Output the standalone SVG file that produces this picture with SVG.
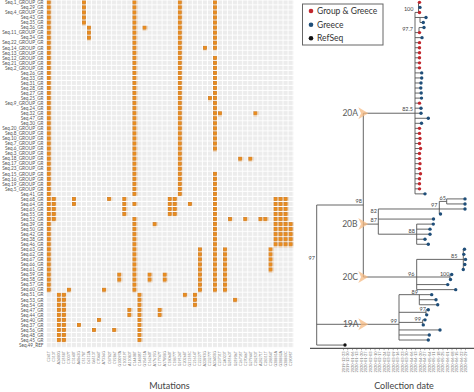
<svg xmlns="http://www.w3.org/2000/svg" width="474" height="392" viewBox="0 0 474 392">
<defs>
<pattern id="pg" x="46.6" y="0.3" width="5.04" height="5.04" patternUnits="userSpaceOnUse"><rect width="4.1" height="4.1" fill="#ececec"/></pattern>
<pattern id="po" x="46.6" y="0.3" width="5.04" height="5.04" patternUnits="userSpaceOnUse"><rect x="0.25" y="0.25" width="3.6" height="3.6" fill="#ea8c1d" stroke="#c56e12" stroke-width="0.5"/></pattern>
</defs>
<style>
text{font-family:Lato,"Open Sans","Liberation Sans",sans-serif}
.rl{font-size:4.7px;fill:#555;text-anchor:end}
.cl{font-size:3.6px;fill:#777;text-anchor:end}
.dl{font-size:3.9px;fill:#777;text-anchor:end}
.bs{font-size:5.5px;fill:#444;text-anchor:end}
.cn{font-size:8.5px;fill:#5a5a5a;text-anchor:end}
.ax{font-size:9px;fill:#444;text-anchor:middle}
.lg{font-size:8.5px;fill:#333}
.e{fill:none;stroke:#555;stroke-width:0.9}
.m{fill:url(#po)}
.tr{fill:#c1272d}.tb{fill:#1f4e79}.tk{fill:#111}
.tri{fill:#f6b982;opacity:0.75}
</style>

<g id="row-labels">
<text class="rl" x="43.5" y="4.15">Seq.1_GROUP_GR</text>
<text class="rl" x="43.5" y="9.19">Seq.29_GR</text>
<text class="rl" x="43.5" y="14.23">Seq.4_GROUP_GR</text>
<text class="rl" x="43.5" y="19.27">Seq.43_GR</text>
<text class="rl" x="43.5" y="24.31">Seq.35_GR</text>
<text class="rl" x="43.5" y="29.35">Seq.36_GR</text>
<text class="rl" x="43.5" y="34.39">Seq.11_GROUP_GR</text>
<text class="rl" x="43.5" y="39.43">Seq.34_GR</text>
<text class="rl" x="43.5" y="44.47">Seq.22_GROUP_GR</text>
<text class="rl" x="43.5" y="49.51">Seq.14_GROUP_GR</text>
<text class="rl" x="43.5" y="54.55">Seq.13_GROUP_GR</text>
<text class="rl" x="43.5" y="59.59">Seq.12_GROUP_GR</text>
<text class="rl" x="43.5" y="64.63">Seq.21_GROUP_GR</text>
<text class="rl" x="43.5" y="69.67">Seq.2_GROUP_GR</text>
<text class="rl" x="43.5" y="74.71">Seq.26_GR</text>
<text class="rl" x="43.5" y="79.75">Seq.33_GR</text>
<text class="rl" x="43.5" y="84.79">Seq.31_GR</text>
<text class="rl" x="43.5" y="89.83">Seq.28_GR</text>
<text class="rl" x="43.5" y="94.87">Seq.27_GR</text>
<text class="rl" x="43.5" y="99.91">Seq.25_GR</text>
<text class="rl" x="43.5" y="104.95">Seq.9_GROUP_GR</text>
<text class="rl" x="43.5" y="109.99">Seq.24_GR</text>
<text class="rl" x="43.5" y="115.03">Seq.32_GR</text>
<text class="rl" x="43.5" y="120.07">Seq.47_GR</text>
<text class="rl" x="43.5" y="125.11">Seq.30_GR</text>
<text class="rl" x="43.5" y="130.15">Seq.20_GROUP_GR</text>
<text class="rl" x="43.5" y="135.19">Seq.8_GROUP_GR</text>
<text class="rl" x="43.5" y="140.23">Seq.10_GROUP_GR</text>
<text class="rl" x="43.5" y="145.27">Seq.7_GROUP_GR</text>
<text class="rl" x="43.5" y="150.31">Seq.6_GROUP_GR</text>
<text class="rl" x="43.5" y="155.35">Seq.3_GROUP_GR</text>
<text class="rl" x="43.5" y="160.39">Seq.18_GROUP_GR</text>
<text class="rl" x="43.5" y="165.43">Seq.17_GROUP_GR</text>
<text class="rl" x="43.5" y="170.47">Seq.23_GROUP_GR</text>
<text class="rl" x="43.5" y="175.51">Seq.15_GROUP_GR</text>
<text class="rl" x="43.5" y="180.55">Seq.16_GROUP_GR</text>
<text class="rl" x="43.5" y="185.59">Seq.19_GROUP_GR</text>
<text class="rl" x="43.5" y="190.63">Seq.5_GROUP_GR</text>
<text class="rl" x="43.5" y="195.67">Seq.41_GR</text>
<text class="rl" x="43.5" y="200.71">Seq.68_GR</text>
<text class="rl" x="43.5" y="205.75">Seq.64_GR</text>
<text class="rl" x="43.5" y="210.79">Seq.65_GR</text>
<text class="rl" x="43.5" y="215.83">Seq.55_GR</text>
<text class="rl" x="43.5" y="220.87">Seq.52_GR</text>
<text class="rl" x="43.5" y="225.91">Seq.39_GR</text>
<text class="rl" x="43.5" y="230.95">Seq.50_GR</text>
<text class="rl" x="43.5" y="235.99">Seq.42_GR</text>
<text class="rl" x="43.5" y="241.03">Seq.38_GR</text>
<text class="rl" x="43.5" y="246.07">Seq.46_GR</text>
<text class="rl" x="43.5" y="251.11">Seq.63_GR</text>
<text class="rl" x="43.5" y="256.15">Seq.62_GR</text>
<text class="rl" x="43.5" y="261.19">Seq.67_GR</text>
<text class="rl" x="43.5" y="266.23">Seq.66_GR</text>
<text class="rl" x="43.5" y="271.27">Seq.61_GR</text>
<text class="rl" x="43.5" y="276.31">Seq.59_GR</text>
<text class="rl" x="43.5" y="281.35">Seq.58_GR</text>
<text class="rl" x="43.5" y="286.39">Seq.57_GR</text>
<text class="rl" x="43.5" y="291.43">Seq.60_GR</text>
<text class="rl" x="43.5" y="296.47">Seq.51_GR</text>
<text class="rl" x="43.5" y="301.51">Seq.53_GR</text>
<text class="rl" x="43.5" y="306.55">Seq.54_GR</text>
<text class="rl" x="43.5" y="311.59">Seq.47_GR</text>
<text class="rl" x="43.5" y="316.63">Seq.44_GR</text>
<text class="rl" x="43.5" y="321.67">Seq.40_GR</text>
<text class="rl" x="43.5" y="326.71">Seq.37_GR</text>
<text class="rl" x="43.5" y="331.75">Seq.56_GR</text>
<text class="rl" x="43.5" y="336.79">Seq.48_GR</text>
<text class="rl" x="43.5" y="341.83">Seq.45_GR</text>
<text class="rl" x="43.5" y="346.87">Seq.49_REF</text>
</g>

<g id="grid">
<rect x="46.6" y="0.3" width="246.96" height="347.76" fill="url(#pg)"/>
</g>

<g id="mutations">
<rect class="m" x="46.6" y="0.3" width="5.04" height="292.32"/>
<rect class="m" x="51.64" y="196.86" width="5.04" height="25.2"/>
<rect class="m" x="56.68" y="292.62" width="10.08" height="50.4"/>
<rect class="m" x="66.76" y="287.58" width="5.04" height="5.04"/>
<rect class="m" x="71.8" y="196.86" width="5.04" height="10.08"/>
<rect class="m" x="76.84" y="322.86" width="5.04" height="5.04"/>
<rect class="m" x="81.88" y="0.3" width="5.04" height="25.2"/>
<rect class="m" x="86.92" y="25.5" width="5.04" height="15.12"/>
<rect class="m" x="91.96" y="327.9" width="5.04" height="5.04"/>
<rect class="m" x="97" y="317.82" width="5.04" height="5.04"/>
<rect class="m" x="102.04" y="287.58" width="5.04" height="5.04"/>
<rect class="m" x="107.08" y="196.86" width="5.04" height="5.04"/>
<rect class="m" x="112.12" y="327.9" width="5.04" height="5.04"/>
<rect class="m" x="117.16" y="272.46" width="5.04" height="10.08"/>
<rect class="m" x="122.2" y="196.86" width="5.04" height="20.16"/>
<rect class="m" x="127.24" y="307.74" width="5.04" height="10.08"/>
<rect class="m" x="132.28" y="0.3" width="5.04" height="196.56"/>
<rect class="m" x="132.28" y="201.9" width="5.04" height="5.04"/>
<rect class="m" x="132.28" y="217.02" width="5.04" height="75.6"/>
<rect class="m" x="137.32" y="292.62" width="5.04" height="50.4"/>
<rect class="m" x="142.36" y="25.5" width="5.04" height="5.04"/>
<rect class="m" x="147.4" y="272.46" width="5.04" height="10.08"/>
<rect class="m" x="152.44" y="222.06" width="5.04" height="5.04"/>
<rect class="m" x="157.48" y="307.74" width="5.04" height="10.08"/>
<rect class="m" x="162.52" y="272.46" width="5.04" height="10.08"/>
<rect class="m" x="167.56" y="196.86" width="10.08" height="20.16"/>
<rect class="m" x="177.64" y="0.3" width="5.04" height="196.56"/>
<rect class="m" x="182.68" y="292.62" width="5.04" height="5.04"/>
<rect class="m" x="187.72" y="201.9" width="5.04" height="5.04"/>
<rect class="m" x="192.76" y="292.62" width="5.04" height="15.12"/>
<rect class="m" x="197.8" y="247.26" width="5.04" height="45.36"/>
<rect class="m" x="202.84" y="45.66" width="5.04" height="5.04"/>
<rect class="m" x="207.88" y="96.06" width="5.04" height="5.04"/>
<rect class="m" x="212.92" y="0.3" width="5.04" height="50.4"/>
<rect class="m" x="212.92" y="55.74" width="5.04" height="95.76"/>
<rect class="m" x="212.92" y="171.66" width="5.04" height="120.96"/>
<rect class="m" x="217.96" y="111.18" width="5.04" height="5.04"/>
<rect class="m" x="223" y="247.26" width="5.04" height="45.36"/>
<rect class="m" x="228.04" y="217.02" width="5.04" height="5.04"/>
<rect class="m" x="233.08" y="297.66" width="5.04" height="5.04"/>
<rect class="m" x="238.12" y="156.54" width="5.04" height="5.04"/>
<rect class="m" x="243.16" y="217.02" width="5.04" height="5.04"/>
<rect class="m" x="248.2" y="156.54" width="5.04" height="5.04"/>
<rect class="m" x="253.24" y="111.18" width="5.04" height="5.04"/>
<rect class="m" x="258.28" y="217.02" width="10.08" height="5.04"/>
<rect class="m" x="268.36" y="247.26" width="5.04" height="25.2"/>
<rect class="m" x="273.4" y="196.86" width="15.12" height="50.4"/>
<rect class="m" x="288.52" y="222.06" width="5.04" height="25.2"/>
</g>

<g id="column-labels">
<text class="cl" x="50.05" y="351" transform="rotate(-90 50.05 351)">C241T</text>
<text class="cl" x="55.09" y="351" transform="rotate(-90 55.09 351)">C313T</text>
<text class="cl" x="60.13" y="351" transform="rotate(-90 60.13 351)">A2480G</text>
<text class="cl" x="65.17" y="351" transform="rotate(-90 65.17 351)">C2558T</text>
<text class="cl" x="70.21" y="351" transform="rotate(-90 70.21 351)">C3037T</text>
<text class="cl" x="75.25" y="351" transform="rotate(-90 75.25 351)">C3140T</text>
<text class="cl" x="80.29" y="351" transform="rotate(-90 80.29 351)">A4862G</text>
<text class="cl" x="85.33" y="351" transform="rotate(-90 85.33 351)">C5178T</text>
<text class="cl" x="90.37" y="351" transform="rotate(-90 90.37 351)">C6312A</text>
<text class="cl" x="95.41" y="351" transform="rotate(-90 95.41 351)">G6513T</text>
<text class="cl" x="100.45" y="351" transform="rotate(-90 100.45 351)">C7044T</text>
<text class="cl" x="105.49" y="351" transform="rotate(-90 105.49 351)">A7336G</text>
<text class="cl" x="110.53" y="351" transform="rotate(-90 110.53 351)">C8782T</text>
<text class="cl" x="115.57" y="351" transform="rotate(-90 115.57 351)">C9286T</text>
<text class="cl" x="120.61" y="351" transform="rotate(-90 120.61 351)">G10097A</text>
<text class="cl" x="125.65" y="351" transform="rotate(-90 125.65 351)">C10319T</text>
<text class="cl" x="130.69" y="351" transform="rotate(-90 130.69 351)">A11083T</text>
<text class="cl" x="135.73" y="351" transform="rotate(-90 135.73 351)">C14408T</text>
<text class="cl" x="140.77" y="351" transform="rotate(-90 140.77 351)">C14805T</text>
<text class="cl" x="145.81" y="351" transform="rotate(-90 145.81 351)">G15451A</text>
<text class="cl" x="150.85" y="351" transform="rotate(-90 150.85 351)">C16260T</text>
<text class="cl" x="155.89" y="351" transform="rotate(-90 155.89 351)">A17615G</text>
<text class="cl" x="160.93" y="351" transform="rotate(-90 160.93 351)">C17747T</text>
<text class="cl" x="165.97" y="351" transform="rotate(-90 165.97 351)">A17858G</text>
<text class="cl" x="171.01" y="351" transform="rotate(-90 171.01 351)">C18060T</text>
<text class="cl" x="176.05" y="351" transform="rotate(-90 176.05 351)">C18877T</text>
<text class="cl" x="181.09" y="351" transform="rotate(-90 181.09 351)">G19524T</text>
<text class="cl" x="186.13" y="351" transform="rotate(-90 186.13 351)">C20268T</text>
<text class="cl" x="191.17" y="351" transform="rotate(-90 191.17 351)">G21255C</text>
<text class="cl" x="196.21" y="351" transform="rotate(-90 196.21 351)">C21614T</text>
<text class="cl" x="201.25" y="351" transform="rotate(-90 201.25 351)">C22227T</text>
<text class="cl" x="206.29" y="351" transform="rotate(-90 206.29 351)">A22893G</text>
<text class="cl" x="211.33" y="351" transform="rotate(-90 211.33 351)">C23277T</text>
<text class="cl" x="216.37" y="351" transform="rotate(-90 216.37 351)">A23403G</text>
<text class="cl" x="221.41" y="351" transform="rotate(-90 221.41 351)">C23731T</text>
<text class="cl" x="226.45" y="351" transform="rotate(-90 226.45 351)">C24023T</text>
<text class="cl" x="231.49" y="351" transform="rotate(-90 231.49 351)">G25563T</text>
<text class="cl" x="236.53" y="351" transform="rotate(-90 236.53 351)">G25906T</text>
<text class="cl" x="241.57" y="351" transform="rotate(-90 241.57 351)">C26735T</text>
<text class="cl" x="246.61" y="351" transform="rotate(-90 246.61 351)">C27046T</text>
<text class="cl" x="251.65" y="351" transform="rotate(-90 251.65 351)">G27944T</text>
<text class="cl" x="256.69" y="351" transform="rotate(-90 256.69 351)">C28253T</text>
<text class="cl" x="261.73" y="351" transform="rotate(-90 261.73 351)">A28271T</text>
<text class="cl" x="266.77" y="351" transform="rotate(-90 266.77 351)">C28311T</text>
<text class="cl" x="271.81" y="351" transform="rotate(-90 271.81 351)">C28854T</text>
<text class="cl" x="276.85" y="351" transform="rotate(-90 276.85 351)">G28881A</text>
<text class="cl" x="281.89" y="351" transform="rotate(-90 281.89 351)">G28882A</text>
<text class="cl" x="286.93" y="351" transform="rotate(-90 286.93 351)">G28883C</text>
<text class="cl" x="291.97" y="351" transform="rotate(-90 291.97 351)">C29095T</text>
</g>
<text class="ax" x="169.5" y="389">Mutations</text>

<g id="legend">
<rect x="302.5" y="4" width="80.5" height="41" fill="#fff" stroke="#666" stroke-width="1"/>
<circle class="tr" cx="311" cy="11" r="2.3"/>
<text class="lg" x="317" y="14">Group &amp; Greece</text>
<circle class="tb" cx="311" cy="24.8" r="2.3"/>
<text class="lg" x="317" y="27.8">Greece</text>
<circle class="tk" cx="311" cy="38.3" r="2.3"/>
<text class="lg" x="317" y="41.3">RefSeq</text>
</g>

<g id="connectors">
<path class="e" d="M415 12.43V193.87M415 12.43H418.5M418.5 2.35V12.43M418.5 2.35H419.5M418.5 7.39H420
M415 17.47H420M420 17.47V22.51M420 17.47H426M420 22.51H423.3
M415 32.59H419.5M419 27.55V32.59M419 27.55H424M415 37.63H422
M415 42.67H419.5M415 47.71H419.5M415 52.75H419.5M415 57.79H419.5M415 62.83H419.5M415 67.87H419.5
M415 72.91H421.7M415 77.95H421.7M415 82.99H421M415 88.03H420.8M415 93.07H421.2M415 98.11H421.5
M415 103.15H419.5M415 108.19H421M415 113.23H421M415 118.27H428.3M415 123.31H421.5
M415 128.35H419.5M415 133.39H419.5M415 138.43H420M415 143.47H419.5M415 148.51H420.5M415 153.55H419.5
M415 158.59H419.5M415 163.63H420M415 168.67H419.5M415 173.71H420.5M415 178.75H419.5M415 183.79H419.5
M415 188.83H419.5M415 193.87H425
M363.3 113.23H415M363.3 113.23V277M316.7 205H363.3M316.7 205V345.07M316.7 345.07H345M316.7 324.3H399
M363.3 224.11H378.3M378.3 208.99V234.19M378.3 208.99H465M439.3 201.4V214.03M439.3 201.4H446.7
M446.7 198.91V203.95M446.7 198.91H465M446.7 203.95H465M439.3 214.03H440.5M378.3 219.07H433.5
M378.3 234.19H416.7M416.7 224.11V244.27M416.7 224.11H433.3M416.7 229.15H430M416.7 234.19H430M416.7 239.23H425M416.7 244.27H428.3
M363.3 277H450M416.7 259.39V289.63M416.7 259.39H463.3M463.3 249.31V269.47
M463.3 249.31H464.5M463.3 254.35H463.8M463.3 259.39H465.5M463.3 264.43H464.8
M450 274.51V279.55M450 274.51H451.7M416.7 284.59H447.7M416.7 289.63H455.7
M399 294.67V340.03M399 294.67H431.7M419.3 294.67V304.75M419.3 299.71H436M419.3 304.75H437.7
M399 312.3H426M426 309.79V314.83M426 309.79H428.3M426 314.83H426.7
M399 322.4H422.7M422.7 319.87V324.91M422.7 319.87H425M422.7 324.91H423.3
M399 329.95H440M399 334.99H429.3M399 340.03H428.3"/>
</g>

<g id="clade-markers">
<polygon class="tri" points="358.3,107.2 368.3,113.23 358.3,119.2 361,113.23"/>
<polygon class="tri" points="358.3,218.1 368.3,224.11 358.3,230.1 361,224.11"/>
<polygon class="tri" points="358.3,271 368.3,277 358.3,283 361,277"/>
<polygon class="tri" points="358.3,318.3 368.3,324.3 358.3,330.3 361,324.3"/>
<text class="cn" x="358" y="116.3">20A</text>
<text class="cn" x="357.5" y="227.2">20B</text>
<text class="cn" x="358" y="280.1">20C</text>
<text class="cn" x="358.5" y="327.4">19A</text>
</g>

<g id="support-labels">
<text class="bs" x="413.5" y="10.5">100</text>
<text class="bs" x="413" y="31">97.7</text>
<text class="bs" x="413" y="111">82.5</text>
<text class="bs" x="362" y="203.3">98</text>
<text class="bs" x="377" y="212.5">82</text>
<text class="bs" x="377" y="222.3">87</text>
<text class="bs" x="437.5" y="206.5">97</text>
<text class="bs" x="446" y="200.3">65</text>
<text class="bs" x="415" y="232.5">88</text>
<text class="bs" x="457.5" y="257.6">85</text>
<text class="bs" x="414.5" y="275.5">96</text>
<text class="bs" x="449.5" y="275.5">100</text>
<text class="bs" x="315" y="260">97</text>
<text class="bs" x="397" y="322.5">99</text>
<text class="bs" x="418" y="293.8">89</text>
<text class="bs" x="426" y="311">97</text>
<text class="bs" x="421" y="321">99</text>
</g>

<g id="tips">
<circle class="tr" cx="419.5" cy="2.35" r="1.7"/>
<circle class="tb" cx="420" cy="7.39" r="1.7"/>
<circle class="tr" cx="419.5" cy="12.43" r="1.7"/>
<circle class="tb" cx="426" cy="17.47" r="1.7"/>
<circle class="tb" cx="423.3" cy="22.51" r="1.7"/>
<circle class="tb" cx="424" cy="27.55" r="1.7"/>
<circle class="tr" cx="419.5" cy="32.59" r="1.7"/>
<circle class="tb" cx="422" cy="37.63" r="1.7"/>
<circle class="tr" cx="419.5" cy="42.67" r="1.7"/>
<circle class="tr" cx="419.5" cy="47.71" r="1.7"/>
<circle class="tr" cx="419.5" cy="52.75" r="1.7"/>
<circle class="tr" cx="419.5" cy="57.79" r="1.7"/>
<circle class="tr" cx="419.5" cy="62.83" r="1.7"/>
<circle class="tr" cx="419.5" cy="67.87" r="1.7"/>
<circle class="tb" cx="421.7" cy="72.91" r="1.7"/>
<circle class="tb" cx="421.7" cy="77.95" r="1.7"/>
<circle class="tb" cx="421" cy="82.99" r="1.7"/>
<circle class="tb" cx="420.8" cy="88.03" r="1.7"/>
<circle class="tb" cx="421.2" cy="93.07" r="1.7"/>
<circle class="tb" cx="421.5" cy="98.11" r="1.7"/>
<circle class="tr" cx="419.5" cy="103.15" r="1.7"/>
<circle class="tb" cx="421" cy="108.19" r="1.7"/>
<circle class="tb" cx="421" cy="113.23" r="1.7"/>
<circle class="tb" cx="428.3" cy="118.27" r="1.7"/>
<circle class="tb" cx="421.5" cy="123.31" r="1.7"/>
<circle class="tr" cx="419.5" cy="128.35" r="1.7"/>
<circle class="tr" cx="419.5" cy="133.39" r="1.7"/>
<circle class="tr" cx="420" cy="138.43" r="1.7"/>
<circle class="tr" cx="419.5" cy="143.47" r="1.7"/>
<circle class="tr" cx="420.5" cy="148.51" r="1.7"/>
<circle class="tr" cx="419.5" cy="153.55" r="1.7"/>
<circle class="tr" cx="419.5" cy="158.59" r="1.7"/>
<circle class="tr" cx="420" cy="163.63" r="1.7"/>
<circle class="tr" cx="419.5" cy="168.67" r="1.7"/>
<circle class="tr" cx="420.5" cy="173.71" r="1.7"/>
<circle class="tr" cx="419.5" cy="178.75" r="1.7"/>
<circle class="tr" cx="419.5" cy="183.79" r="1.7"/>
<circle class="tr" cx="419.5" cy="188.83" r="1.7"/>
<circle class="tb" cx="425" cy="193.87" r="1.7"/>
<circle class="tb" cx="465" cy="198.91" r="1.7"/>
<circle class="tb" cx="465" cy="203.95" r="1.7"/>
<circle class="tb" cx="465" cy="208.99" r="1.7"/>
<circle class="tb" cx="440.5" cy="214.03" r="1.7"/>
<circle class="tb" cx="433.5" cy="219.07" r="1.7"/>
<circle class="tb" cx="433.3" cy="224.11" r="1.7"/>
<circle class="tb" cx="430" cy="229.15" r="1.7"/>
<circle class="tb" cx="430" cy="234.19" r="1.7"/>
<circle class="tb" cx="425" cy="239.23" r="1.7"/>
<circle class="tb" cx="428.3" cy="244.27" r="1.7"/>
<circle class="tb" cx="464.5" cy="249.31" r="1.7"/>
<circle class="tb" cx="463.8" cy="254.35" r="1.7"/>
<circle class="tb" cx="465.5" cy="259.39" r="1.7"/>
<circle class="tb" cx="464.8" cy="264.43" r="1.7"/>
<circle class="tb" cx="463.3" cy="269.47" r="1.7"/>
<circle class="tb" cx="451.7" cy="274.51" r="1.7"/>
<circle class="tb" cx="450.5" cy="279.55" r="1.7"/>
<circle class="tb" cx="447.7" cy="284.59" r="1.7"/>
<circle class="tb" cx="455.7" cy="289.63" r="1.7"/>
<circle class="tb" cx="431.7" cy="294.67" r="1.7"/>
<circle class="tb" cx="436" cy="299.71" r="1.7"/>
<circle class="tb" cx="437.7" cy="304.75" r="1.7"/>
<circle class="tb" cx="428.3" cy="309.79" r="1.7"/>
<circle class="tb" cx="426.7" cy="314.83" r="1.7"/>
<circle class="tb" cx="425" cy="319.87" r="1.7"/>
<circle class="tb" cx="423.3" cy="324.91" r="1.7"/>
<circle class="tb" cx="440" cy="329.95" r="1.7"/>
<circle class="tb" cx="429.3" cy="334.99" r="1.7"/>
<circle class="tb" cx="428.3" cy="340.03" r="1.7"/>
<circle class="tk" cx="345" cy="345.07" r="1.7"/>
</g>

<g id="time-axis">
<path d="M310 348.3H474" stroke="#555" stroke-width="1.3" fill="none"/>
<path d="M343 349.6H468" stroke="#777" stroke-width="1.4" stroke-dasharray="0.6 3.93" fill="none"/>
<text class="dl" x="344.8" y="351.5" transform="rotate(-90 344.8 351.5)">2019-12-23</text>
<text class="dl" x="349.33" y="351.5" transform="rotate(-90 349.33 351.5)">2019-12-30</text>
<text class="dl" x="353.86" y="351.5" transform="rotate(-90 353.86 351.5)">2020-01-06</text>
<text class="dl" x="358.39" y="351.5" transform="rotate(-90 358.39 351.5)">2020-01-13</text>
<text class="dl" x="362.92" y="351.5" transform="rotate(-90 362.92 351.5)">2020-01-20</text>
<text class="dl" x="367.45" y="351.5" transform="rotate(-90 367.45 351.5)">2020-01-27</text>
<text class="dl" x="371.98" y="351.5" transform="rotate(-90 371.98 351.5)">2020-02-03</text>
<text class="dl" x="376.51" y="351.5" transform="rotate(-90 376.51 351.5)">2020-02-10</text>
<text class="dl" x="381.04" y="351.5" transform="rotate(-90 381.04 351.5)">2020-02-17</text>
<text class="dl" x="385.57" y="351.5" transform="rotate(-90 385.57 351.5)">2020-02-24</text>
<text class="dl" x="390.1" y="351.5" transform="rotate(-90 390.1 351.5)">2020-03-02</text>
<text class="dl" x="394.63" y="351.5" transform="rotate(-90 394.63 351.5)">2020-03-09</text>
<text class="dl" x="399.16" y="351.5" transform="rotate(-90 399.16 351.5)">2020-03-16</text>
<text class="dl" x="403.69" y="351.5" transform="rotate(-90 403.69 351.5)">2020-03-23</text>
<text class="dl" x="408.22" y="351.5" transform="rotate(-90 408.22 351.5)">2020-03-30</text>
<text class="dl" x="412.75" y="351.5" transform="rotate(-90 412.75 351.5)">2020-04-06</text>
<text class="dl" x="417.28" y="351.5" transform="rotate(-90 417.28 351.5)">2020-04-13</text>
<text class="dl" x="421.81" y="351.5" transform="rotate(-90 421.81 351.5)">2020-04-20</text>
<text class="dl" x="426.34" y="351.5" transform="rotate(-90 426.34 351.5)">2020-04-27</text>
<text class="dl" x="430.87" y="351.5" transform="rotate(-90 430.87 351.5)">2020-05-04</text>
<text class="dl" x="435.4" y="351.5" transform="rotate(-90 435.4 351.5)">2020-05-11</text>
<text class="dl" x="439.93" y="351.5" transform="rotate(-90 439.93 351.5)">2020-05-18</text>
<text class="dl" x="444.46" y="351.5" transform="rotate(-90 444.46 351.5)">2020-05-25</text>
<text class="dl" x="448.99" y="351.5" transform="rotate(-90 448.99 351.5)">2020-06-01</text>
<text class="dl" x="453.52" y="351.5" transform="rotate(-90 453.52 351.5)">2020-06-08</text>
<text class="dl" x="458.05" y="351.5" transform="rotate(-90 458.05 351.5)">2020-06-15</text>
<text class="dl" x="462.58" y="351.5" transform="rotate(-90 462.58 351.5)">2020-06-22</text>
<text class="dl" x="467.11" y="351.5" transform="rotate(-90 467.11 351.5)">2020-06-29</text>
</g>
<text class="ax" x="404" y="389">Collection date</text>
</svg>
